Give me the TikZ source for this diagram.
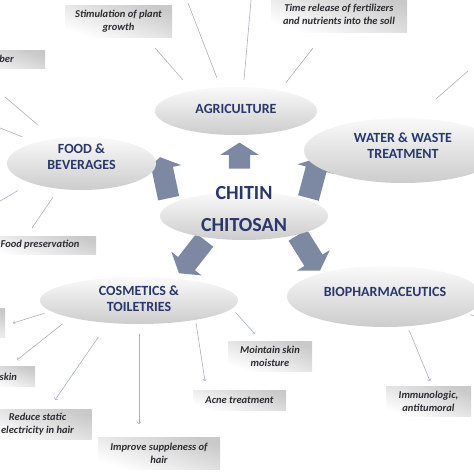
\documentclass[tikz,border=0pt]{standalone}
\usepackage{fontspec}
\setmainfont{Carlito}
\usetikzlibrary{shapes.geometric, shapes.arrows}
\definecolor{titleblue}{RGB}{40,56,108}
\definecolor{arrowblue}{RGB}{125,136,163}
\definecolor{spokegray}{RGB}{168,176,194}
\definecolor{notegray}{RGB}{45,45,50}

\tikzset{
  field/.style={ellipse, draw=none, top color=gray!4, bottom color=gray!40, inner sep=0pt},
  fieldtext/.style={text=titleblue, font=\fontsize{14}{16}\selectfont\bfseries, align=center, inner sep=0pt},
  notetext/.style={text=notegray, font=\fontsize{10.5}{13}\selectfont\bfseries\itshape, align=center, inner sep=0pt},
  note/.style={rectangle, draw=none, top color=gray!42, bottom color=white, shading angle=-20, notetext},
  bigarrow/.style={single arrow, fill=arrowblue, draw=none, inner xsep=0pt, inner ysep=10.5pt,
    single arrow head extend=8.5pt, single arrow tip angle=115},
  spoke/.style={spokegray, line width=0.6pt},
}

\begin{document}
\begin{tikzpicture}[x=1pt, y=-1pt]
\clip (0,0) rectangle (474,474);

% fat arrows out of the centre
\node[bigarrow, minimum height=26pt, rotate=90] (toagri) at (239.5,159) {};
\node[bigarrow, minimum height=42pt, rotate=102] (tofood) at (165,181) {};
\node[bigarrow, minimum height=42pt, rotate=75] (towater) at (313,181) {};
\node[bigarrow, minimum height=42pt, rotate=232] (tocosm) at (194,254) {};
\node[bigarrow, minimum height=42pt, rotate=-58] (tobio) at (307,250) {};

% fields
\node[field, minimum width=162pt, minimum height=48pt] (agri) at (236,111) {};
\node[fieldtext] (agritxt) at ([yshift=2pt]agri) {AGRICULTURE};
\node[field, minimum width=149pt, minimum height=53pt] (food) at (81.5,163.5) {};
\node[fieldtext] (foodtxt) at ([yshift=7pt]food) {FOOD \&\\BEVERAGES};
\node[field, minimum width=198pt, minimum height=65pt] (water) at (403,150.5) {};
\node[fieldtext] (watertxt) at ([yshift=5pt]water) {WATER \& WASTE\\TREATMENT};
\node[field, minimum width=168pt, minimum height=48pt] (chit) at (244,216) {};
\node[fieldtext, font=\fontsize{20}{32}\selectfont\bfseries] (chittxt) at ([yshift=7pt]chit) {CHITIN\\CHITOSAN};
\node[field, minimum width=198pt, minimum height=47pt] (cosm) at (139,300.5) {};
\node[fieldtext] (cosmtxt) at ([yshift=1.5pt]cosm) {COSMETICS \&\\TOILETRIES};
\node[field, minimum width=196pt, minimum height=61pt] (bio) at (385,296.5) {};
\node[fieldtext] (biotxt) at ([yshift=5pt]bio) {BIOPHARMACEUTICS};

% notes
\node[note, minimum width=107pt, minimum height=32pt] (stim) at (118.5,21) {Stimulation of plant\\growth};
\node[note, minimum width=136pt, minimum height=35pt] (time) at (339,14.5) {Time release of fertilizers\\and nutrients into the soll};
\node[note, minimum width=100pt, minimum height=18pt] (fibbox) at (-5,59) {};
\node[notetext, anchor=east] (fibtxt) at (14,59) {ber};
\node[note, minimum width=112pt, minimum height=18pt] (pres) at (40,245) {Food preservation};
\node[note, minimum width=55pt, minimum height=29pt] (cutbox) at (-22.5,322.5) {};
\node[note, minimum width=52pt, minimum height=20pt] (skinbox) at (9,376) {};
\node[notetext, anchor=west] (skintxt) at (-0.5,377) {skin};
\node[note, minimum width=108pt, minimum height=30pt] (static) at (37.5,424) {Reduce static\\electricity in hair};
\node[note, minimum width=122pt, minimum height=32pt] (supple) at (159,453) {Improve suppleness of\\hair};
\node[note, minimum width=93pt, minimum height=20pt] (acne) at (239.5,400) {Acne treatment};
\node[note, minimum width=84pt, minimum height=30pt] (moist) at (270,356) {Mointain skin\\moisture};
\node[note, minimum width=85pt, minimum height=30pt] (immuno) at (428.5,401) {Immunologic,\\antitumoral};

% free ends of the spokes
\coordinate (stimend) at (155,48);
\coordinate (agriup) at (188,3);
\coordinate (agritop) at (251.5,-5);
\coordinate (timeend) at (313,48);
\coordinate (waterend) at (468,71);
\coordinate (foodA) at (5,97);
\coordinate (foodB) at (-10,124);
\coordinate (foodC) at (-10,207);
\coordinate (foodD) at (32,228);
\coordinate (cosmA) at (13,323);
\coordinate (cosmB) at (17,360);
\coordinate (cosmC) at (55,400);
\coordinate (cosmD) at (139,424);
\coordinate (cosmE) at (205,381);
\coordinate (cosmF) at (255,334);
\coordinate (bioA) at (430,381);
\coordinate (bioB) at (490,320);

\foreach \from/\to/\gap in {agri.155/stimend/14.5, agri.123/agriup/10, agri.73/agritop/7,
    agri.25/timeend/10, water.71/waterend/29, food.138/foodA/21, food.155/foodB/15,
    food.201/foodC/15, food.228/foodD/10}
  \draw[spoke, shorten <=\gap pt] (\from) -- (\to);

\foreach \from/\to/\gap in {cosm.187/cosmA/6, cosm.194/cosmB/10, cosm.216/cosmC/17,
    cosm.270/cosmD/10, cosm.341/cosmE/3, cosm.355/cosmF/5, bio.307/bioA/4, bio.348/bioB/4}
  \draw[spoke, ->, shorten <=\gap pt] (\from) -- (\to);
\end{tikzpicture}
\end{document}
